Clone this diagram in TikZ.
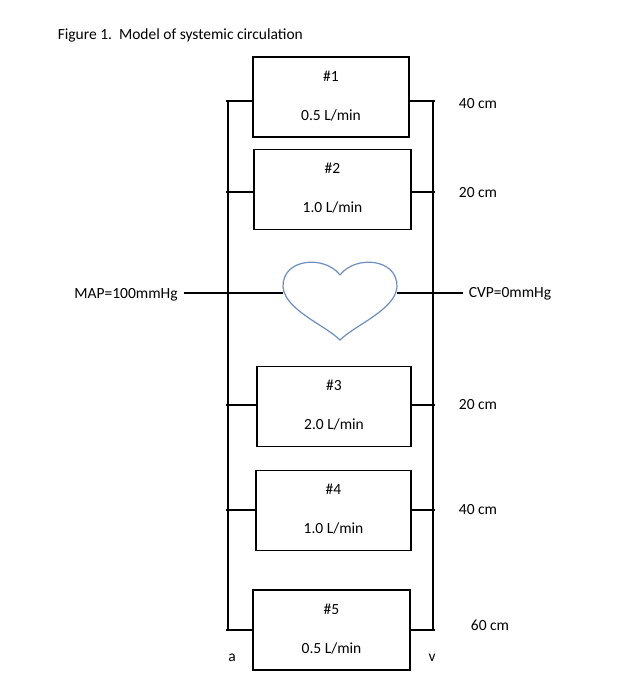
\documentclass[tikz,border=0pt]{standalone}
\usepackage{fontspec}
\setmainfont{Carlito}
\begin{document}
\begin{tikzpicture}[x=1pt,y=-1pt,line width=1.5pt,
  res/.style={draw,line width=1.5pt,minimum height=80pt,inner sep=0pt},
  lab/.style={font=\fontsize{15.5}{18}\selectfont,inner sep=2pt}]
\useasboundingbox (0,0) rectangle (625,695);
\node[lab,anchor=west] (title) at (55,35) {Figure 1.\ \ Model of systemic circulation};
\foreach \n/\x/\y/\w/\v/\bw in {1/331/97/0.5/101/156, 2/332.5/189.5/1.0/192/157, 3/334/406.5/2.0/405/154, 4/333.5/510.5/1.0/510/155, 5/331.5/630/0.5/630/157}{
  \node[res,minimum width=\bw pt] (b\n) at (\x,\y) {};
  \node[lab] (h\n) at (\x,{\y-21}) {\#\n};
  \node[lab] (f\n) at (\x,{\y+18}) {\w\ L/min};
}
\coordinate (lt) at (228,101); \coordinate (lb) at (228,630);
\coordinate (rt) at (433,101); \coordinate (rb) at (433,630);
\draw (lt) -- (lb); \draw (rt) -- (rb);
\foreach \n/\y in {1/101,2/192,3/405,4/510,5/630}{
  \draw (226,\y) -- (b\n.west |- 0,\y);
  \draw (b\n.east |- 0,\y) -- (435,\y);
}
\node[lab,outer sep=4pt] (map) at (126,295) {MAP=100mmHg};
\node[lab,outer sep=4pt] (cvp) at (510,294) {CVP=0mmHg};
\draw[line width=1.2pt] (map.east |- 0,293) -- (283,293);
\draw[line width=1.2pt] (397,293) -- (cvp.west |- 0,293);
\draw[line width=1.2pt,draw={rgb,255:red,110;green,142;blue,190},fill=white]
 (340,275) .. controls (325,255) and (282,258) .. (283,287) .. controls (285,310) and (325,325) .. (340,340) .. controls (355,325) and (395,310) .. (397,287) .. controls (398,258) and (355,255) .. (340,275);
\node[lab] (l1) at (478,104) {40 cm};
\node[lab] (l2) at (478,193) {20 cm};
\node[lab] (l3) at (478,405) {20 cm};
\node[lab] (l4) at (478,510) {40 cm};
\node[lab] (l5) at (490,625) {60 cm};
\node[lab] (a) at (232,658) {a};
\node[lab] (v) at (432,658) {v};
\end{tikzpicture}
\end{document}
